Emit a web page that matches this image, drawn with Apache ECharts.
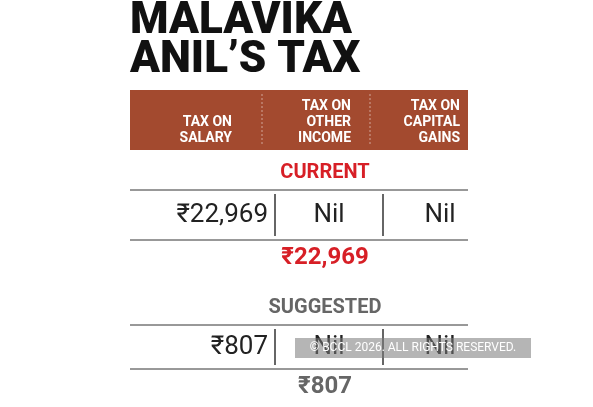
<!DOCTYPE html>
<html>
<head>
<meta charset="utf-8">
<script src="https://cdn.jsdelivr.net/npm/echarts@6/dist/echarts.min.js"></script>
<style>html,body{margin:0;padding:0;background:#fff}#c{width:593px;height:407px}</style>
</head>
<body>
<div id="c"></div>
<script>
var titleLines = ['MALAVIKA', 'ANIL\u2019S TAX'];
var headers = ['TAX ON\nSALARY', 'TAX ON\nOTHER\nINCOME', 'TAX ON\nCAPITAL\nGAINS'];
var sections = ['CURRENT', 'SUGGESTED'];
var currentRow = ['\u20b922,969', 'Nil', 'Nil'];
var currentTotal = '\u20b922,969';
var suggestedRow = ['\u20b9807', 'Nil', 'Nil'];
var suggestedTotal = '\u20b9807';

var myChart = echarts.init(document.getElementById('c'));
var font = 'Roboto, "Liberation Sans", sans-serif';
var g = [];
// 标题
titleLines.forEach(function (t, i) {
    g.push({ type: 'text', left: 130, top: 0 + i * 39,
        style: { text: t, font: '900 44px ' + font, fill: '#111' } });
});
// 表头
g.push({ type: 'rect', shape: { x: 130, y: 90, width: 338, height: 60 }, style: { fill: '#a34a2f' } });
var colRight = [232, 351, 460];
headers.forEach(function (h, i) {
    g.push({ type: 'text', x: colRight[i], y: 146,
        style: { text: h, font: 'bold 14px ' + font, fill: '#fff', align: 'right', verticalAlign: 'bottom', lineHeight: 16 } });
});
[262, 370].forEach(function (x) {
    g.push({ type: 'line', shape: { x1: x, y1: 94, x2: x, y2: 146 }, style: { stroke: 'rgba(255,255,255,0.5)', lineWidth: 1, lineDash: [2, 2] } });
});

function section(label, labelColor, top, h, row, total, totalColor) {
    g.push({ type: 'text', x: 325, y: top,
        style: { text: label, font: 'bold 20px ' + font, fill: labelColor, align: 'center', verticalAlign: 'middle' } });
    var l1 = top + 17, l2 = top + 17 + h;
    [l1, l2].forEach(function (y) {
        g.push({ type: 'line', shape: { x1: 130, y1: y, x2: 468, y2: y }, style: { stroke: '#333', lineWidth: 1 } });
    });
    [275, 383].forEach(function (x) {
        g.push({ type: 'line', shape: { x1: x, y1: l1 + 4, x2: x, y2: l2 - 4 }, style: { stroke: '#333', lineWidth: 1.5 } });
    });
    var cx = [[268, 'right'], [329, 'center'], [440, 'center']];
    row.forEach(function (v, i) {
        g.push({ type: 'text', x: cx[i][0], y: (l1 + l2) / 2,
            style: { text: v, font: '26px ' + font, fill: '#222', align: cx[i][1], verticalAlign: 'middle' } });
    });
    g.push({ type: 'text', x: 325, y: l2 + 18,
        style: { text: total, font: 'bold 24px ' + font, fill: totalColor, align: 'center', verticalAlign: 'middle' } });
}
section(sections[0], '#d71f26', 173, 50, currentRow, currentTotal, '#d71f26');
section(sections[1], '#666', 308, 44, suggestedRow, suggestedTotal, '#666');

// 水印
g.push({ type: 'rect', shape: { x: 295, y: 338, width: 236, height: 20 }, style: { fill: 'rgba(120,120,120,0.55)' }, z: 10 });
g.push({ type: 'text', x: 413, y: 348, z: 11,
    style: { text: '\u00a9 BCCL 2026. ALL RIGHTS RESERVED.', font: '12px ' + font, fill: '#fff', align: 'center', verticalAlign: 'middle' } });

myChart.setOption({ graphic: { elements: g } });
</script>
</body>
</html>
